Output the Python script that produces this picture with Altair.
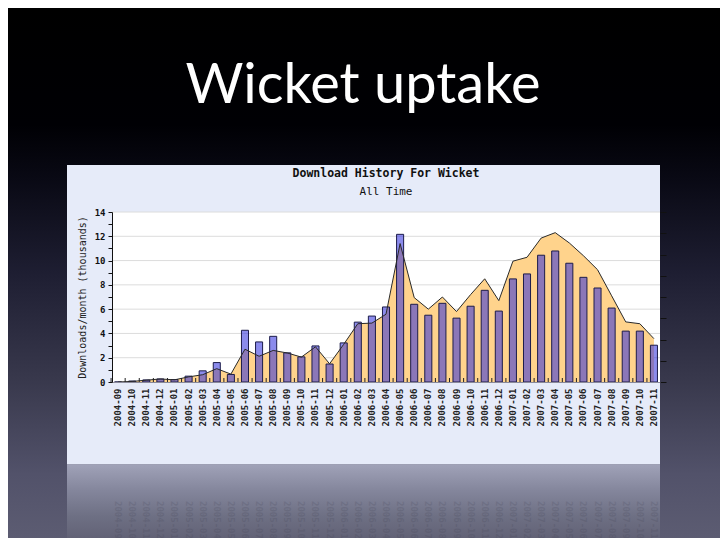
import altair as alt
import pandas as pd

# ---- data (thousands of downloads per month) ----
months = [
    "2004-09", "2004-10", "2004-11", "2004-12",
    "2005-01", "2005-02", "2005-03", "2005-04", "2005-05", "2005-06",
    "2005-07", "2005-08", "2005-09", "2005-10", "2005-11", "2005-12",
    "2006-01", "2006-02", "2006-03", "2006-04", "2006-05", "2006-06",
    "2006-07", "2006-08", "2006-09", "2006-10", "2006-11", "2006-12",
    "2007-01", "2007-02", "2007-03", "2007-04", "2007-05", "2007-06",
    "2007-07", "2007-08", "2007-09", "2007-10", "2007-11",
]
downloads = [
    0.0, 0.08, 0.17, 0.25,
    0.2, 0.48, 0.92, 1.6, 0.62, 4.26,
    3.3, 3.76, 2.4, 2.07, 2.97, 1.48,
    3.22, 4.93, 5.43, 6.18, 12.16, 6.4,
    5.5, 6.48, 5.26, 6.24, 7.55, 5.84,
    8.49, 8.9, 10.44, 10.79, 9.78, 8.62,
    7.74, 6.09, 4.19, 4.19, 3.03,
]
trend = [
    0.0, 0.05, 0.15, 0.25,
    0.18, 0.42, 0.6, 1.1, 0.65, 2.7,
    2.12, 2.6, 2.39, 2.05, 2.9, 1.5,
    3.1, 4.8, 4.85, 5.58, 11.4, 6.95,
    6.0, 7.0, 5.8, 7.2, 8.5, 6.7,
    9.95, 10.27, 11.85, 12.3, 11.45, 10.4,
    9.25, 7.1, 4.95, 4.8, 3.57,
]
y_ticks = list(range(0, 15))
grid_vals = [2, 4, 6, 8, 10, 12, 14]
right_ticks = list(range(0, 9))

slide_title = "Wicket uptake"
chart_title = "Download History For Wicket"
chart_subtitle = "All Time"
y_title = "Downloads/month (thousands)"

df = pd.DataFrame({"month": months, "downloads": downloads, "trend": trend})
one = pd.DataFrame({"k": [0]})

W, H = 548, 170
MONO = "DejaVu Sans Mono"

xscale = alt.Scale(domain=months, paddingInner=0.5, paddingOuter=0.18)
yscale = alt.Scale(domain=[0, 14], nice=False, zero=True)

x_axis = alt.Axis(
    title=None, labelAngle=-90, labelFont=MONO, labelFontWeight="bold",
    labelFontSize=9, labelColor="#222222", ticks=False, domain=True,
    domainColor="#8a8a9a", labelPadding=6, labelOverlap=False, zindex=2,
)
y_axis = alt.Axis(
    values=y_ticks, labelExpr="datum.value % 2 == 0 ? datum.label : ''",
    grid=False, tickSize=4, tickColor="#111111", domainColor="#111111",
    labelFont=MONO, labelFontSize=9, labelFontWeight="bold", labelColor="#111111",
    labelPadding=3, title=y_title, titleFont=MONO, titleFontSize=10,
    titleFontWeight="normal", titleColor="#222222", titlePadding=7, zindex=2,
)

x_enc = alt.X("month:N", scale=xscale, sort=months, axis=x_axis)


def yq(field):
    return alt.Y(field, scale=yscale, axis=y_axis)


bg_grad = alt.LinearGradient(
    gradient="linear", x1=0, x2=0, y1=0, y2=1,
    stops=[
        alt.GradientStop(color="#000000", offset=0),
        alt.GradientStop(color="#000004", offset=0.22),
        alt.GradientStop(color="#090914", offset=0.32),
        alt.GradientStop(color="#1e1e32", offset=0.5),
        alt.GradientStop(color="#38384c", offset=0.7),
        alt.GradientStop(color="#52526a", offset=0.88),
        alt.GradientStop(color="#5c5c72", offset=1),
    ],
)
refl_grad = alt.LinearGradient(
    gradient="linear", x1=0, x2=0, y1=0, y2=1,
    stops=[
        alt.GradientStop(color="#a0a2b8", offset=0),
        alt.GradientStop(color="#84869c", offset=0.35),
        alt.GradientStop(color="#6e7084", offset=0.7),
        alt.GradientStop(color="#626276", offset=1),
    ],
)

bg = alt.Chart(one).mark_rect(fill=bg_grad).encode(
    x=alt.value(-104), x2=alt.value(608), y=alt.value(-204), y2=alt.value(326))
panel = alt.Chart(one).mark_rect(fill="#e6ebf9").encode(
    x=alt.value(-45), x2=alt.value(548), y=alt.value(-47), y2=alt.value(252.5))
refl = alt.Chart(one).mark_rect(fill=refl_grad).encode(
    x=alt.value(-45), x2=alt.value(548), y=alt.value(252.5), y2=alt.value(326))
plot_bg = alt.Chart(one).mark_rect(fill="#ffffff").encode(
    x=alt.value(0), x2=alt.value(W), y=alt.value(0), y2=alt.value(H))

title = alt.Chart(one).mark_text(
    text=slide_title, font="Lato", fontSize=56, color="#ffffff",
    align="center", baseline="alphabetic").encode(x=alt.value(251), y=alt.value(-109))
ctitle = alt.Chart(one).mark_text(
    text=chart_title, font=MONO, fontSize=11.5, fontWeight="bold", color="#111111",
    align="center", baseline="middle").encode(x=alt.value(274), y=alt.value(-38))
csub = alt.Chart(one).mark_text(
    text=chart_subtitle, font=MONO, fontSize=11, color="#111111",
    align="center", baseline="middle").encode(x=alt.value(274), y=alt.value(-20))

grid = alt.Chart(pd.DataFrame({"g": grid_vals})).mark_rule(
    color="#dcdcdc", strokeWidth=1).encode(y=yq("g:Q"))
area = alt.Chart(df).mark_area(color="#ffd38c", opacity=1).encode(x=x_enc, y=yq("trend:Q"))
bars = alt.Chart(df).mark_bar(
    fill="#2c2cdc", fillOpacity=0.55, stroke="#1c1c4a", strokeWidth=1).encode(
    x=x_enc, y=yq("downloads:Q"))
line = alt.Chart(df).mark_line(color="#2a2a2a", strokeWidth=1).encode(x=x_enc, y=yq("trend:Q"))
inner_ticks = alt.Chart(df).mark_rule(color="#222222", xOffset=-7).encode(
    x=x_enc, y=alt.value(H), y2=alt.value(H - 4))
refl_text = alt.Chart(df).mark_text(
    angle=90, align="left", baseline="middle", font=MONO, fontWeight="bold",
    fontSize=9, color="#3a3a4c", opacity=0.16).encode(
    x=x_enc, y=alt.value(289), text="month:N")

inner = alt.layer(grid, area, bars, line, inner_ticks, refl_text)

right = alt.Chart(pd.DataFrame({"r": right_ticks})).mark_point(opacity=0).encode(
    y=alt.Y("r:Q", scale=alt.Scale(domain=[0, 8], nice=False),
            axis=alt.Axis(orient="right", values=right_ticks, labels=False, domain=False,
                          grid=False, tickSize=6, tickColor="#111111", title=None,
                          zindex=2)))

chart = alt.layer(bg, panel, refl, plot_bg, title, ctitle, csub, inner, right).resolve_scale(
    y="independent"
).properties(
    width=W, height=H,
    autosize=alt.AutoSizeParams(type="none"),
    padding={"left": 104, "top": 204, "right": 60, "bottom": 156},
).configure(background="#000000").configure_view(stroke=None)

chart.save("out.html", embed_options={"renderer": "svg", "actions": False})
